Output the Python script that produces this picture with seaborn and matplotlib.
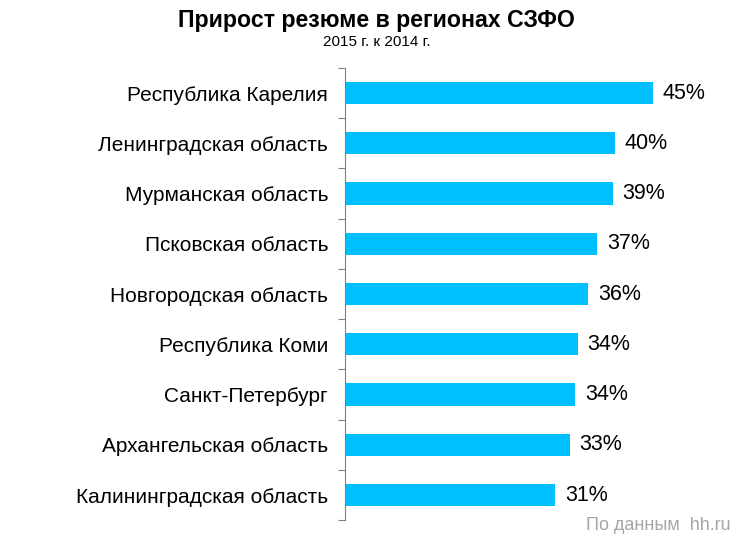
import matplotlib.pyplot as plt
import seaborn as sns
import pandas as pd

regions = ["Республика Карелия", "Ленинградская область", "Мурманская область",
           "Псковская область", "Новгородская область", "Республика Коми",
           "Санкт-Петербург", "Архангельская область", "Калининградская область"]
values = [45.0, 39.5, 39.2, 36.9, 35.6, 34.1, 33.7, 32.9, 30.8]
labels = ["45%", "40%", "39%", "37%", "36%", "34%", "34%", "33%", "31%"]

df = pd.DataFrame({"region": regions, "value": values})

plt.rcParams["font.family"] = "Liberation Sans"
fig = plt.figure(figsize=(7.53, 5.43), dpi=100)
ax = fig.add_axes([0.458, 0.042, 0.454, 0.833])
sns.barplot(data=df, x="value", y="region", color="#00BFFF", width=0.44,
            saturation=1, ax=ax)

for i, (v, lab) in enumerate(zip(values, labels)):
    ax.text(v + 1.4, i, lab, va="center", ha="left", fontsize=15.5)

ax.set_xlim(0, 50)
ax.set_ylim(len(regions) - 0.5, -0.5)
ax.set_xlabel("")
ax.set_ylabel("")
ax.set_xticks([])
ax.set_yticks([i - 0.5 for i in range(len(regions) + 1)], minor=False)
ax.set_yticklabels([])
ax.set_yticks(range(len(regions)), minor=True)
ax.set_yticklabels(regions, minor=True, fontsize=15)
ax.tick_params(axis="y", which="major", length=5, color="#808080", direction="out")
ax.tick_params(axis="y", which="minor", length=0, pad=12)
for s in ["top", "right", "bottom"]:
    ax.spines[s].set_visible(False)
ax.spines["left"].set_color("#808080")

fig.text(0.5, 0.962, "Прирост резюме в регионах СЗФО", ha="center", va="center",
         fontsize=16.7, fontweight="bold")
fig.text(0.5, 0.922, "2015 г. к 2014 г.", ha="center", va="center", fontsize=11)
fig.text(0.97, 0.032, "По данным  hh.ru", ha="right", va="center", fontsize=13,
         color="#A6A6A6")

fig.savefig("out.png", dpi=100)
